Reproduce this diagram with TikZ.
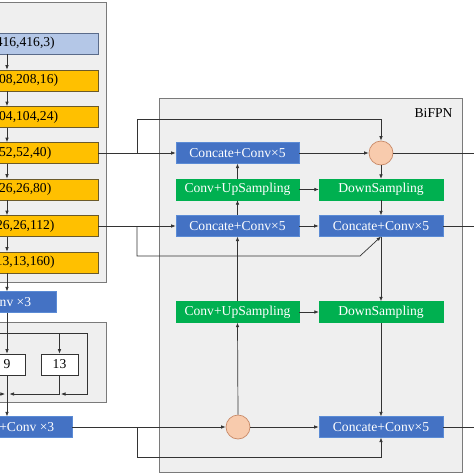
\documentclass[tikz,border=0pt]{standalone}
\usepackage{fontspec}
\setmainfont{Liberation Serif}
\usetikzlibrary{arrows.meta}
\definecolor{blueF}{HTML}{4472C4}
\definecolor{blueD}{HTML}{5B8BD5}
\definecolor{greenF}{HTML}{00B050}
\definecolor{orangeF}{HTML}{FFC000}
\definecolor{orangeD}{HTML}{6B5A2A}
\definecolor{lblueF}{HTML}{B4C7E7}
\definecolor{lblueD}{HTML}{5A6B8A}
\definecolor{grayF}{HTML}{EFEFEF}
\definecolor{grayD}{HTML}{7A7A7A}
\definecolor{circF}{HTML}{F8CBAD}
\definecolor{circD}{HTML}{C98A68}
\definecolor{lineC}{HTML}{333333}
\tikzset{
  txt/.style={font=\fontsize{13.6}{15}\selectfont},
  conn/.style={draw=lineC, line width=0.7pt},
  arr/.style={conn, -{Latex[length=4.5pt,width=3.6pt]}},
  panel/.style={draw=grayD, fill=grayF, line width=0.9pt},
  bluebox/.style={txt, draw=blueD, fill=blueF, text=white, minimum height=20.5pt, inner sep=0pt, line width=0.6pt},
  greenbox/.style={txt, draw=greenF, fill=greenF, text=white, minimum height=21pt, inner sep=0pt},
  orangebox/.style={txt, draw=orangeD, fill=orangeF, minimum width=150pt, minimum height=21pt, inner sep=0pt, line width=0.6pt},
  inbox/.style={txt, draw=lblueD, fill=lblueF, minimum width=150pt, minimum height=21pt, inner sep=0pt, line width=0.6pt},
  poolbox/.style={txt, draw=lineC, fill=white, minimum width=37pt, minimum height=21pt, inner sep=0pt, line width=0.6pt},
  addc/.style={circle, draw=circD, fill=circF, minimum size=24pt, inner sep=0pt, line width=0.7pt},
}
\begin{document}
\begin{tikzpicture}[x=1pt,y=-1pt]
\clip (0,0) rectangle (474,474);
\fill[white] (0,0) rectangle (474,474);
% panels
\draw[panel] (-80,2) rectangle (106,282);
\draw[panel] (-80,322) rectangle (106,402);
\draw[panel] (159,98) rectangle (462,472);
\node[txt, anchor=east] (bbtitle) at (3.5,19) {Backbones};
\node[txt, anchor=east] (bititle) at (456,113) {BiFPN};
% backbone
\node[inbox] (in) at (23,43.5) {(416,416,3)};
\node[orangebox] (o1) at (23,80.5) {(208,208,16)};
\node[orangebox] (o2) at (23,117) {(104,104,24)};
\node[orangebox] (o3) at (23,153) {(52,52,40)};
\node[orangebox] (o4) at (23,189.5) {(26,26,80)};
\node[orangebox] (o5) at (23,226) {(26,26,112)};
\node[orangebox] (o6) at (23,262.5) {(13,13,160)};
\foreach \a/\b in {in/o1,o1/o2,o2/o3,o3/o4,o4/o5,o5/o6}
  \draw[arr] (7,0 |- \a.south) -- (7,0 |- \b.north);
% SPP part
\node[bluebox, minimum width=97pt] (c3a) at (7.5,302) {Conv ×3};
\draw[arr] (7,0 |- o6.south) -- (7,0 |- c3a.north);
\node[poolbox] (p9) at (7,364.5) {9};
\node[poolbox] (p13) at (59.5,364.5) {13};
\node[bluebox, minimum width=129pt] (c3b) at (7.5,427) {Concat+Conv ×3};
\draw[arr] (7,0 |- c3a.south) -- (p9.north);
\draw[arr] (p9.south) -- (7,0 |- c3b.north);
\coordinate (sppL) at (-80,333);
\coordinate (sppR) at (87,333);
\draw[conn] (sppL) -- (sppR);
\draw[arr] (59.5,333) -- (p13.north);
\draw[arr] (sppR) -- (87,394) -- (61,394);
\draw[arr] (p13.south) -- (59.5,394) -- (9.5,394);
\coordinate (p5out) at (-30,394);
\draw[arr] (p5out) -- (5,394);
% BiFPN nodes
\node[bluebox, minimum width=123pt] (LC1) at (237.5,153) {Concate+Conv×5};
\node[greenbox, minimum width=123pt] (G1) at (237.5,189.5) {Conv+UpSampling};
\node[greenbox, minimum width=124pt] (DS1) at (381,189.5) {DownSampling};
\node[bluebox, minimum width=123pt] (LC2) at (237.5,226) {Concate+Conv×5};
\node[bluebox, minimum width=124pt] (RC2) at (381,226) {Concate+Conv×5};
\node[greenbox, minimum width=123pt] (G2) at (237.5,312) {Conv+UpSampling};
\node[greenbox, minimum width=124pt] (DS2) at (381,312) {DownSampling};
\node[bluebox, minimum width=124pt] (RC3) at (381,427) {Concate+Conv×5};
\node[addc] (A1) at (381,153) {};
\node[addc] (A2) at (238,427) {};
% inputs into BiFPN
\draw[arr] (o3.east) -- (LC1.west);
\draw[arr] (o5.east) -- (LC2.west);
\draw[arr] (c3b.east) -- (A2.west);
\coordinate (b1) at (137,153);
\coordinate (b2) at (137,226);
\coordinate (b3) at (137,427);
\draw[arr] (b1) -- (137,119) -| (A1.north);
\draw[arr] (b2) -- (137,256) -- (360,256) -- (RC2.south);
\draw[arr] (b3) -- (137,457) -| (RC3.south);
% inside BiFPN
\draw[arr] (LC1.east) -- (A1.west);
\draw[arr] (A1.south) -- (DS1.north);
\draw[arr] (G1.north) -- (LC1.south);
\draw[arr] (G1.east) -- (DS1.west);
\draw[arr] (LC2.north) -- (G1.south);
\draw[arr] (LC2.east) -- (RC2.west);
\draw[arr] (DS1.south) -- (RC2.north);
\draw[arr] (RC2.south) -- (DS2.north);
\draw[arr] (G2.north) -- (LC2.south);
\draw[arr] (A2.north) -- (G2.south);
\draw[arr] (G2.east) -- (DS2.west);
\draw[arr] (A2.east) -- (RC3.west);
\draw[arr] (DS2.south) -- (RC3.north);
% outputs
\coordinate (out1) at (476,153);
\coordinate (out2) at (476,226);
\coordinate (out3) at (476,427);
\draw[conn] (A1.east) -- (out1);
\draw[conn] (RC2.east) -- (out2);
\draw[conn] (RC3.east) -- (out3);
\end{tikzpicture}
\end{document}
